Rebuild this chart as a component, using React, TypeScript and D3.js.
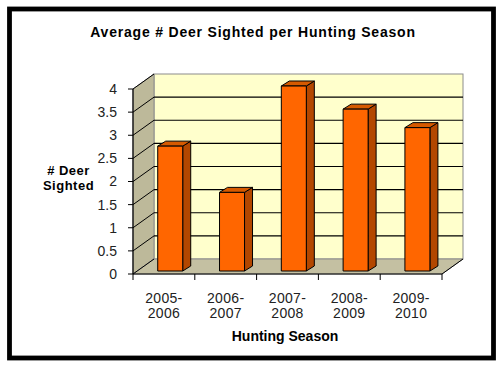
import React from 'react';
import * as d3 from 'd3';

const seasons = ['2005-2006', '2006-2007', '2007-2008', '2008-2009', '2009-2010'];
const deerSighted = [2.7, 1.7, 4.0, 3.5, 3.1];
const yTicks = [0, 0.5, 1, 1.5, 2, 2.5, 3, 3.5, 4];

const W = 503;
const H = 369;
// 3d wall depth
const DX = 21;
const DY = -15;
// bar depth
const BDX = 8;
const BDY = -5;
const FONT = '"Liberation Sans", Arial, sans-serif';

export default function App() {
  const x = d3.scaleBand<string>().domain(seasons).range([133, 442]).padding(0);
  const y = d3.scaleLinear().domain([0, 4]).range([274, 89]);
  const bw = x.bandwidth();
  const barW = 25;

  const left = 133;
  const right = 442;
  const y0 = y(0);
  const yTop = y(4);

  const sideWall = `M${left},${yTop} L${left + DX},${yTop + DY} L${left + DX},${y0 + DY} L${left},${y0} Z`;
  const floor = `M${left},${y0} L${left + DX},${y0 + DY} L${right + DX},${y0 + DY} L${right},${y0} Z`;

  return (
    <svg width={W} height={H} style={{ position: 'absolute', left: 0, top: 0 }} fontFamily={FONT}>
      <rect x={0} y={0} width={W} height={H} fill="#fff" />
      <rect x={9.5} y={9} width={484} height={349} fill="#fff" stroke="#000" strokeWidth={4.8} />

      <text x={253} y={37} textAnchor="middle" fontSize={14} fontWeight="bold" letterSpacing={0.8}>
        Average # Deer Sighted per Hunting Season
      </text>

      {/* back wall */}
      <rect x={left + DX} y={yTop + DY} width={right - left} height={y0 - yTop} fill="#FFFFCC" stroke="#8c8c8c" strokeWidth={1} />
      <path d={sideWall} fill="#BDB99A" stroke="#8c8c8c" strokeWidth={1} />
      <path d={floor} fill="#C4C0A2" stroke="#8c8c8c" strokeWidth={1} />

      {/* gridlines */}
      {yTicks.map(t => (
        <g key={t}>
          {t > 0 && t < 4 && (
            <line x1={left + DX} x2={right + DX} y1={y(t) + DY} y2={y(t) + DY} stroke="#000" strokeWidth={1.2} />
          )}
          <line x1={left} x2={left + DX} y1={y(t)} y2={y(t) + DY} stroke="#000" strokeWidth={1} />
        </g>
      ))}
      <line x1={right} x2={right + DX} y1={y0} y2={y0 + DY} stroke="#000" strokeWidth={1} />

      {/* bars */}
      {seasons.map((s, i) => {
        const bx = (x(s) as number) + bw * 0.4;
        const bb = y0 - 3;
        const bt = y(deerSighted[i]) - 3;
        return (
          <g key={s} stroke="#000" strokeWidth={1} strokeLinejoin="round">
            <path d={`M${bx + barW},${bb} L${bx + barW + BDX},${bb + BDY} L${bx + barW + BDX},${bt + BDY} L${bx + barW},${bt} Z`} fill="#B34700" />
            <path d={`M${bx},${bt} L${bx + BDX},${bt + BDY} L${bx + barW + BDX},${bt + BDY} L${bx + barW},${bt} Z`} fill="#D65A00" />
            <rect x={bx} y={bt} width={barW} height={bb - bt} fill="#FF6600" />
          </g>
        );
      })}

      {/* y axis */}
      <line x1={left} x2={left} y1={yTop} y2={y0} stroke="#000" strokeWidth={1.2} />
      {yTicks.map(t => (
        <g key={'yt' + t}>
          <line x1={left - 5} x2={left} y1={y(t)} y2={y(t)} stroke="#000" strokeWidth={1} />
          <text x={117} y={y(t)} dy="0.35em" textAnchor="end" fontSize={14} fill="#222">
            {d3.format('~g')(t)}
          </text>
        </g>
      ))}

      {/* x axis */}
      <line x1={left} x2={right} y1={y0} y2={y0} stroke="#000" strokeWidth={1.2} />
      {[...seasons.map(s => x(s) as number), right].map((v, i) => (
        <line key={'xt' + i} x1={v} x2={v} y1={y0} y2={y0 + 6} stroke="#000" strokeWidth={1} />
      ))}
      {seasons.map(s => {
        const [a, b] = s.split('-');
        const cx = (x(s) as number) + bw / 2;
        return (
          <text key={'xl' + s} x={cx} textAnchor="middle" fontSize={14} fill="#222" letterSpacing={0.3}>
            <tspan x={cx} y={303}>{a + '-'}</tspan>
            <tspan x={cx} y={318}>{b}</tspan>
          </text>
        );
      })}

      <text x={285} y={341} textAnchor="middle" fontSize={14} fontWeight="bold">
        Hunting Season
      </text>
      <text textAnchor="middle" fontSize={13} fontWeight="bold" letterSpacing={0.5}>
        <tspan x={68.5} y={175}># Deer</tspan>
        <tspan x={68.5} y={190}>Sighted</tspan>
      </text>
    </svg>
  );
}
